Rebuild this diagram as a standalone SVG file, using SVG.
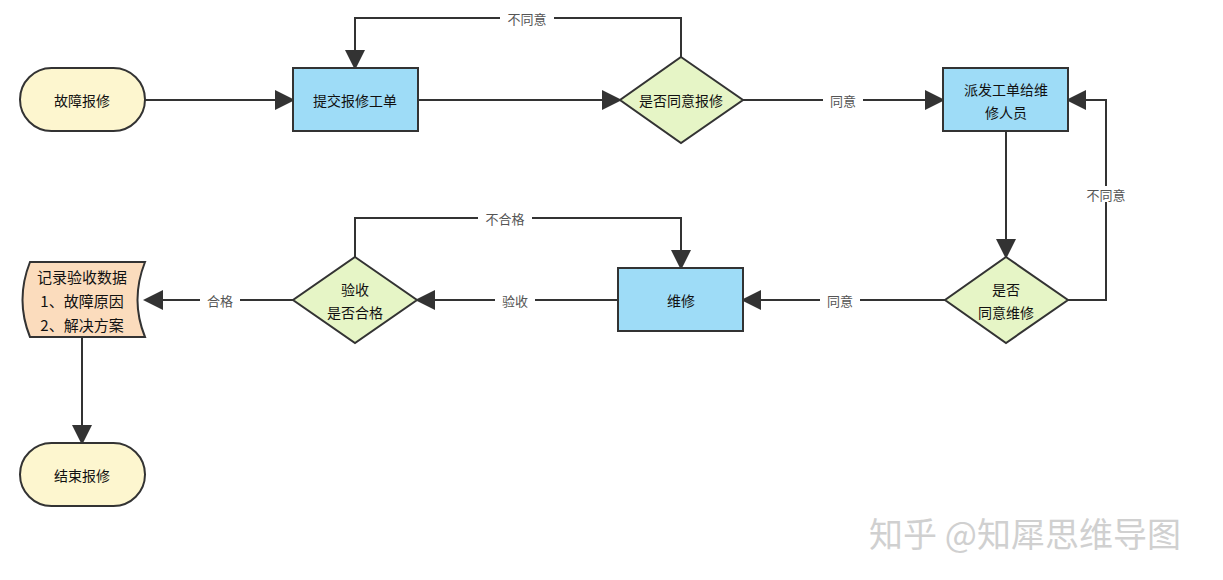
<svg xmlns="http://www.w3.org/2000/svg" width="1223" height="580" viewBox="0 0 1223 580">
<style>
text{font-family:"Noto Sans CJK SC","Liberation Sans",sans-serif;font-size:14px;fill:#111;text-anchor:middle;dominant-baseline:central}
.s{fill:#fdf6cf;stroke:#333;stroke-width:2}
.b{fill:#9edcf7;stroke:#333;stroke-width:2}
.d{fill:#e6f5c6;stroke:#333;stroke-width:2}
.c{fill:none;stroke:#333;stroke-width:2;marker-end:url(#a)}
.l{font-size:13px;fill:#555}
.lb{fill:#fff}
.t{font-size:15px}
</style>
<defs><marker id="a" viewBox="0 0 10 10" refX="9" refY="5" markerWidth="20" markerHeight="20" markerUnits="userSpaceOnUse" orient="auto"><path d="M0,0L10,5L0,10Z" fill="#333"/></marker></defs>
<rect width="1223" height="580" fill="#fff"/>
<g id="connectors">
<path class="c" d="M145,100H293"/>
<path class="c" d="M418,100H620"/>
<path class="c" d="M743,100H943"/>
<path class="c" d="M681,57V18H355V68"/>
<path class="c" d="M1006,131V257"/>
<path class="c" d="M1068,300H1106V100H1068"/>
<path class="c" d="M945,300H743"/>
<path class="c" d="M618,300H417"/>
<path class="c" d="M293,300H145"/>
<path class="c" d="M355,257V218H681V268"/>
<path class="c" d="M82,337V443"/>
<rect class="lb" x="823" y="92" width="40" height="16"/><text class="l" x="843" y="100">同意</text>
<rect class="lb" x="500" y="10" width="54" height="16"/><text class="l" x="527" y="18">不同意</text>
<rect class="lb" x="1080" y="186" width="52" height="16"/><text class="l" x="1106" y="194">不同意</text>
<rect class="lb" x="820" y="292" width="40" height="16"/><text class="l" x="840" y="300">同意</text>
<rect class="lb" x="495" y="292" width="40" height="16"/><text class="l" x="515" y="300">验收</text>
<rect class="lb" x="200" y="292" width="40" height="16"/><text class="l" x="220" y="300">合格</text>
<rect class="lb" x="478" y="210" width="54" height="16"/><text class="l" x="505" y="218">不合格</text>
</g>
<g id="n1"><rect class="s" x="20" y="68" width="125" height="63" rx="31.5"/><text x="82" y="100">故障报修</text></g>
<g id="n2"><rect class="b" x="293" y="68" width="125" height="63"/><text x="355" y="100">提交报修工单</text></g>
<g id="n3"><path class="d" d="M681,57L743,100L681,143L620,100Z"/><text x="681" y="100">是否同意报修</text></g>
<g id="n4"><rect class="b" x="943" y="68" width="125" height="63"/><text x="1006" y="89">派发工单给维</text><text x="1006" y="112">修人员</text></g>
<g id="n5"><path class="d" d="M1006,257L1068,300L1006,343L945,300Z"/><text x="1006" y="289">是否</text><text x="1006" y="312">同意维修</text></g>
<g id="n6"><rect class="b" x="618" y="268" width="125" height="63"/><text x="681" y="300">维修</text></g>
<g id="n7"><path class="d" d="M355,257L417,300L355,343L293,300Z"/><text x="355" y="289">验收</text><text x="355" y="312">是否合格</text></g>
<g id="n8"><path style="fill:#fbdcbd;stroke:#333;stroke-width:2" d="M30,262H145Q130,300 145,337H30Q15,300 30,262Z"/><text class="t" x="82" y="276">记录验收数据</text><text class="t" x="82" y="300">1、故障原因</text><text class="t" x="82" y="324">2、解决方案</text></g>
<g id="n9"><rect class="s" x="20" y="443" width="125" height="63" rx="31.5"/><text x="82" y="475">结束报修</text></g>
<text x="1025" y="532" style="font-size:34px;fill:#d0d0d0">知乎 @知犀思维导图</text>
</svg>
